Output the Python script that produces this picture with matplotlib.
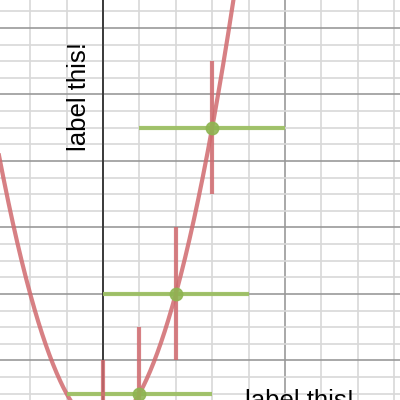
import numpy as np
import matplotlib
matplotlib.use("Agg")
import matplotlib.pyplot as plt
from matplotlib.ticker import MultipleLocator

px = [0, 1, 2, 3]
py = [0, 1, 4, 9]
xerr = [2, 2, 2, 2]
yerr = [2, 2, 2, 2]

fig = plt.figure(figsize=(4, 4), dpi=100)
ax = fig.add_axes([0, 0, 1, 1])
ax.set_xlim(-2.83, 8.16)
ax.set_ylim(0.81, 12.84)
ax.xaxis.set_major_locator(MultipleLocator(5))
ax.xaxis.set_minor_locator(MultipleLocator(1))
ax.yaxis.set_major_locator(MultipleLocator(2))
ax.yaxis.set_minor_locator(MultipleLocator(0.5))
ax.grid(which='major', color='#999999', lw=1.2)
ax.grid(which='minor', color='#d8d8d8', lw=1.2)
ax.set_axisbelow(True)
for s in ax.spines.values():
    s.set_visible(False)
ax.tick_params(which='both', length=0, labelbottom=False, labelleft=False)
ax.axvline(0, color='#333333', lw=1.3)

xs = np.linspace(-4, 4, 400)
ax.plot(xs, xs**2, color='#d06a6e', lw=3, alpha=0.85)
ax.errorbar(px, py, xerr=xerr, fmt='none', ecolor='#9dc064', elinewidth=3, alpha=0.95)
ax.errorbar(px, py, yerr=yerr, fmt='none', ecolor='#d06a6e', elinewidth=3, alpha=0.85)
ax.plot(px, py, 'o', color='#8fb552', ms=9, alpha=0.9)

ax.text(-0.66, 9.95, 'label this!', rotation=90, fontsize=18.5, ha='center', va='center', family='Liberation Sans')
ax.text(3.9, 0.78, 'label this!', fontsize=18.5, ha='left', va='center', family='Liberation Sans')
fig.savefig('out.png', dpi=100)
